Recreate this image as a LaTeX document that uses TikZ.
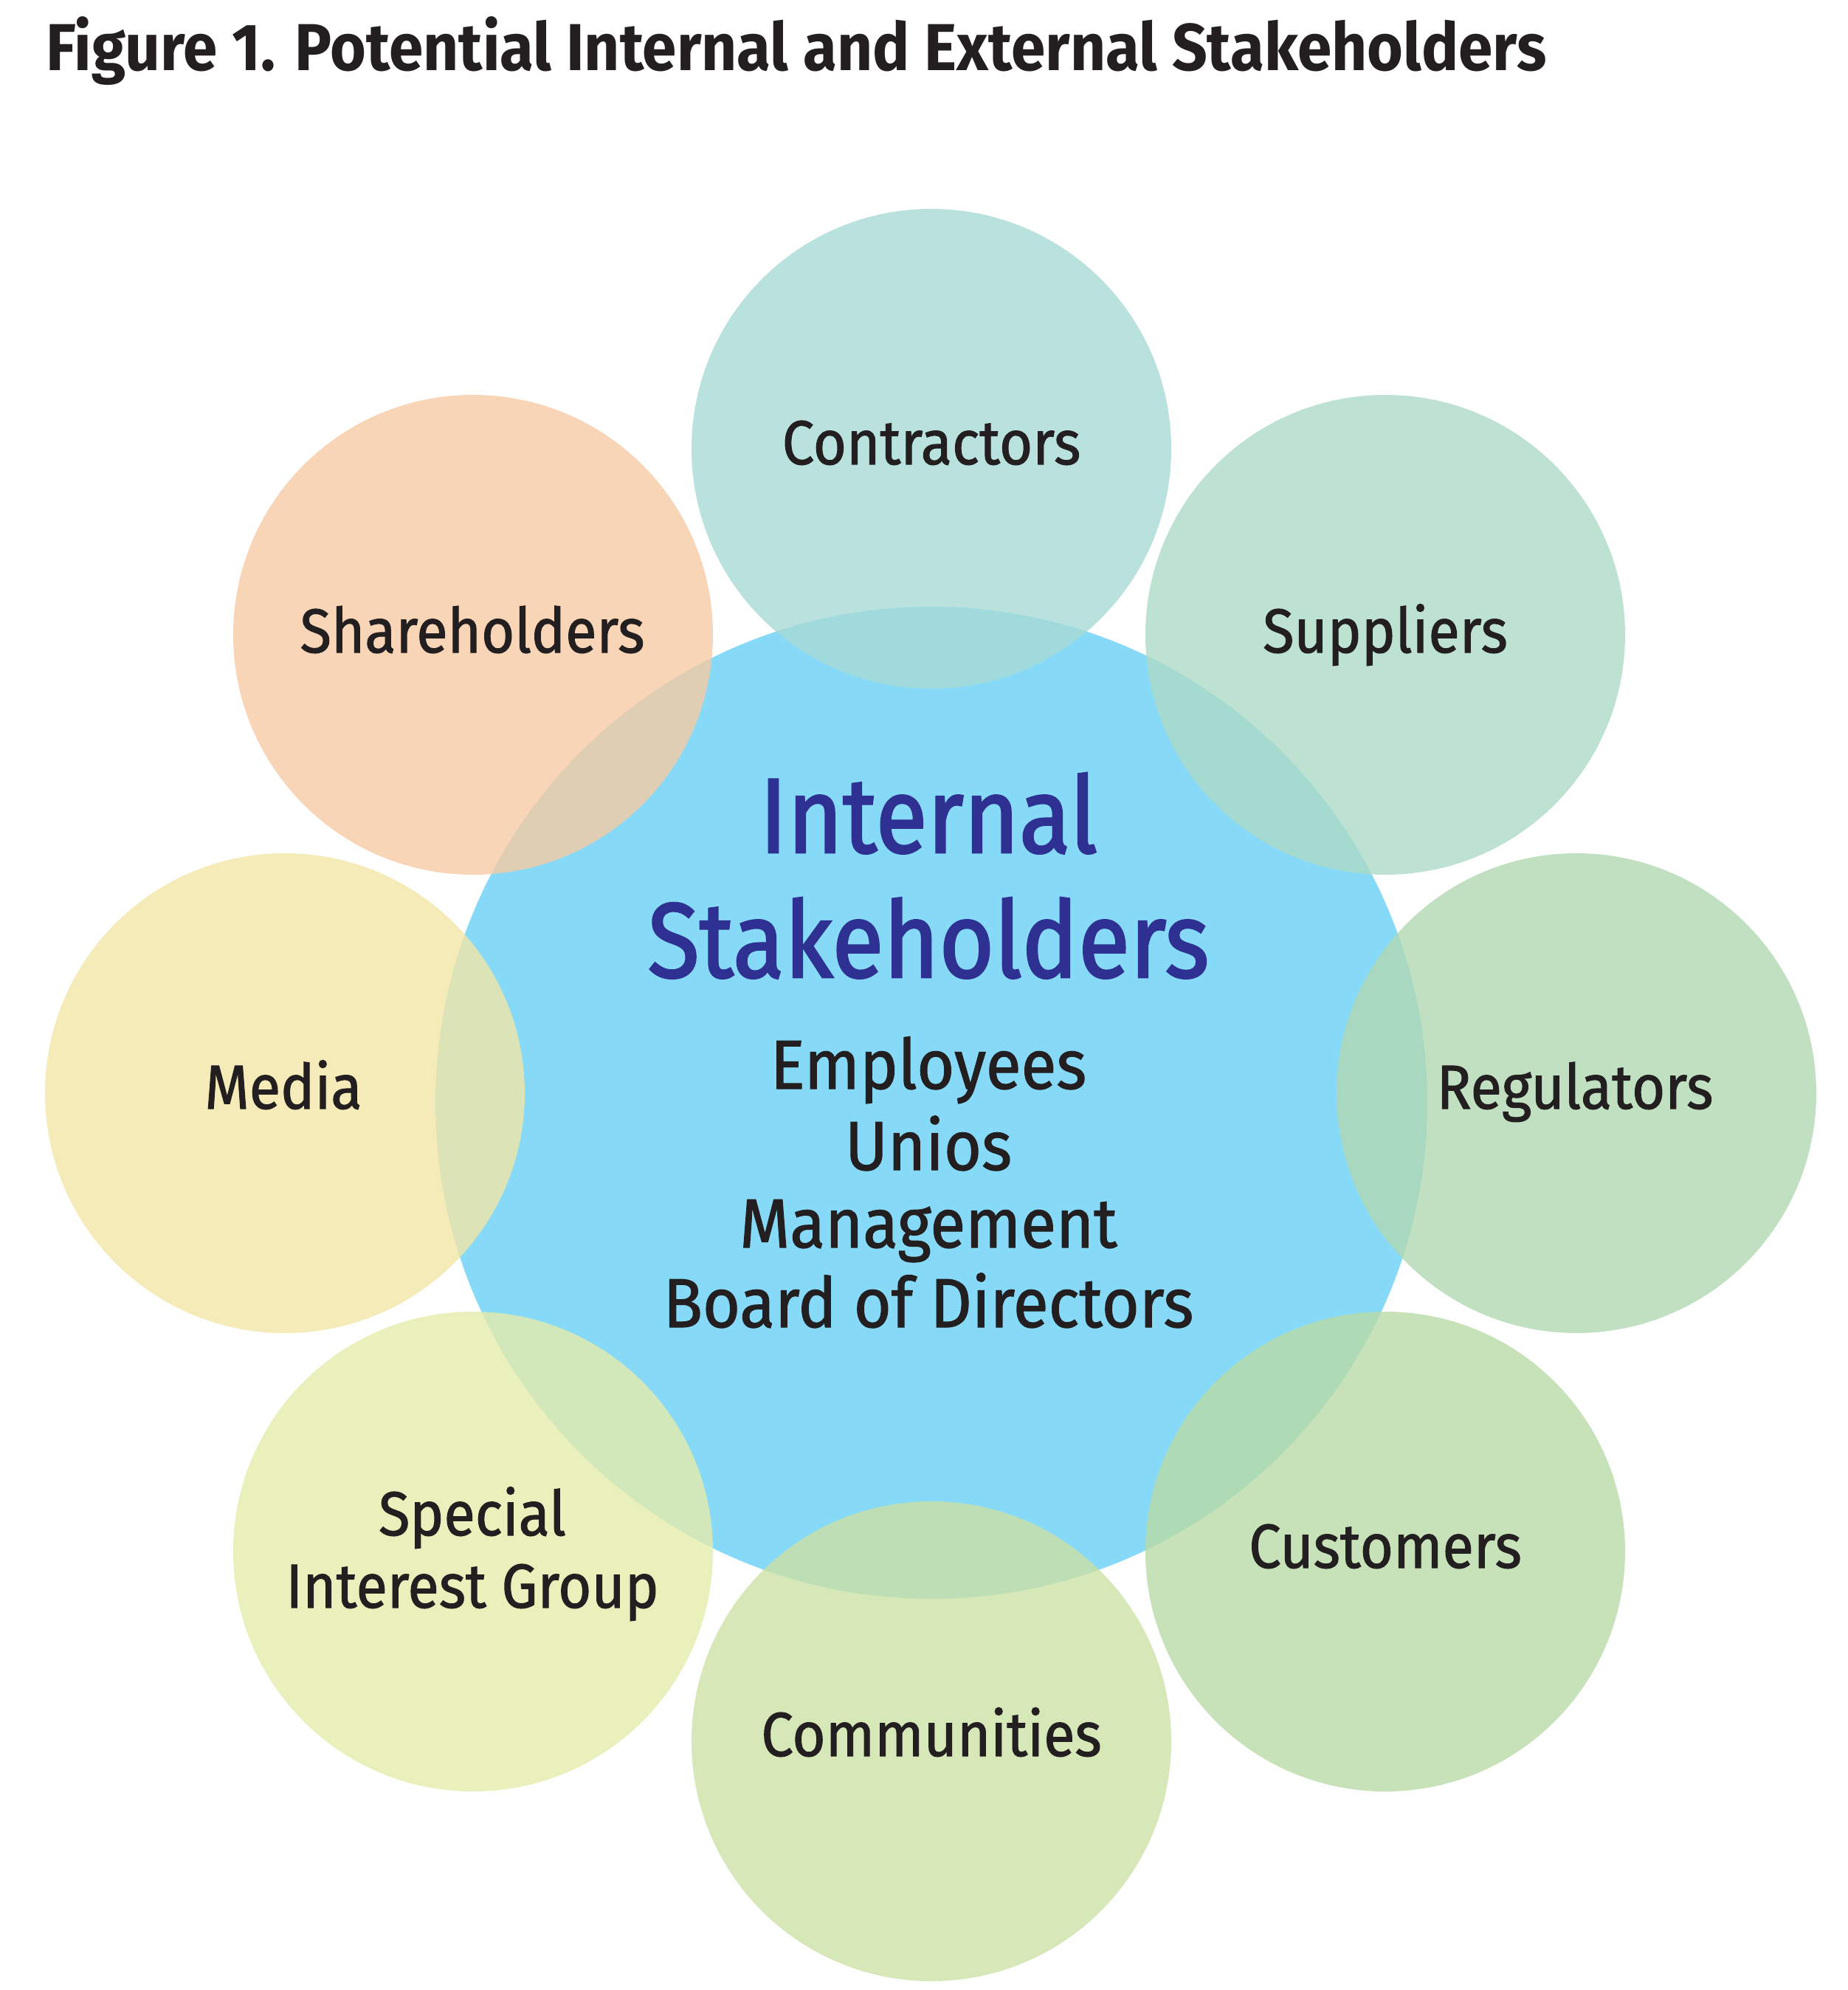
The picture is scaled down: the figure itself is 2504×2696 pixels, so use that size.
\documentclass[tikz,border=0pt]{standalone}
\usepackage{fontspec}
\setmainfont{Fira Sans}
\newfontfamily\titlefont[FakeStretch=0.93]{Fira Sans}
\newfontfamily\labelfont[FakeStretch=0.92, FakeBold=1.2]{Fira Sans}
\newfontfamily\innerfont[FakeStretch=0.93, FakeBold=1.2]{Fira Sans}
\newfontfamily\headfont[FakeStretch=0.89, FakeBold=1.8]{Fira Sans}
\definecolor{inkdark}{RGB}{35,31,32}
\definecolor{inknavy}{RGB}{46,49,146}
\definecolor{coreblue}{RGB}{134,218,247}
\definecolor{contrcol}{RGB}{168,219,215}
\definecolor{supplcol}{RGB}{173,219,199}
\definecolor{regulcol}{RGB}{177,216,179}
\definecolor{custocol}{RGB}{185,219,166}
\definecolor{communcol}{RGB}{204,225,166}
\definecolor{specialcol}{RGB}{229,236,171}
\definecolor{mediacol}{RGB}{242,230,166}
\definecolor{sharecol}{RGB}{246,202,164}

\begin{document}
\begin{tikzpicture}[x=0.1mm, y=-0.1mm,
		outer/.style={fill opacity=0.8},
		outlabel/.style={anchor=base, text=inkdark, font=\labelfont\fontsize{24}{28}\selectfont},
		inlabel/.style={anchor=base, text=inkdark, font=\innerfont\fontsize{26.8}{31}\selectfont},
		headlabel/.style={anchor=base, text=inknavy, font=\headfont\fontsize{41}{48}\selectfont}]
			%%%%% FRAME %%%%%
			\useasboundingbox (0, 0) rectangle (2504, 2696);
			
			\node[anchor=base west, text=inkdark, font=\titlefont\bfseries\fontsize{25.6}{30}\selectfont] (title) at (50, 95) {Figure 1. Potential Internal and External Stakeholders};
			
			%%%%% CIRCLES %%%%%
			\fill[coreblue] (1262, 1494) circle (672);
			
			\fill[outer, contrcol] (1262, 608) circle (325);
			\fill[outer, supplcol] (1877, 860) circle (325);
			\fill[outer, regulcol] (2136, 1481) circle (325);
			\fill[outer, custocol] (1877, 2102) circle (325);
			\fill[outer, communcol] (1262, 2359) circle (325);
			\fill[outer, specialcol] (641, 2102) circle (325);
			\fill[outer, mediacol] (386, 1481) circle (325);
			\fill[outer, sharecol] (641, 860) circle (325);
			
			%%%%% INTERNAL %%%%%
			\node[headlabel] (internal) at (1258, 1155) {Internal};
			\node[headlabel] (stakeholders) at (1258, 1324) {Stakeholders};
			
			\node[inlabel] (employees) at (1258, 1475) {Employees};
			\node[inlabel] (unios) at (1258, 1585) {Unios};
			\node[inlabel] (management) at (1258, 1690) {Management};
			\node[inlabel] (board) at (1258, 1798) {Board of Directors};
			
			%%%%% EXTERNAL %%%%%
			\node[outlabel] (contractors) at (1262, 629) {Contractors};
			\node[outlabel] (suppliers) at (1877, 884) {Suppliers};
			\node[outlabel] (regulators) at (2134, 1502) {Regulators};
			\node[outlabel] (customers) at (1877, 2124) {Customers};
			\node[outlabel] (communities) at (1262, 2379) {Communities};
			\node[outlabel] (special) at (640, 2080) {Special};
			\node[outlabel] (interest) at (640, 2178) {Interest Group};
			\node[outlabel] (media) at (384, 1502) {Media};
			\node[outlabel] (shareholders) at (640, 884) {Shareholders};
			
		\end{tikzpicture}
\end{document}
